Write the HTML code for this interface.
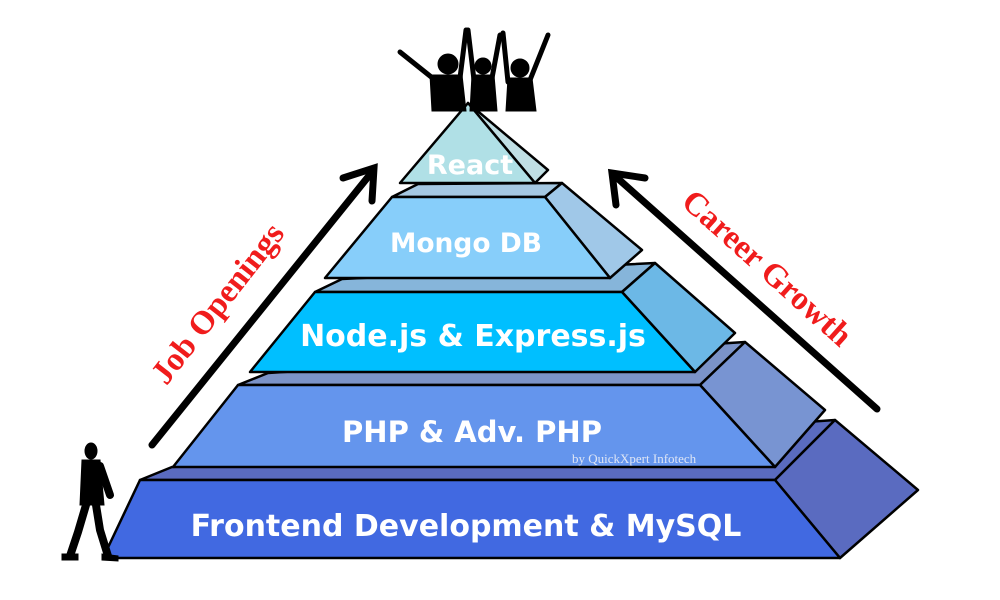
<!DOCTYPE html>
<html><head><meta charset="utf-8"><style>
html,body{margin:0;padding:0;background:#fff;}
svg{display:block;}
</style></head><body>
<svg width="1000" height="600" viewBox="0 0 1000 600" xmlns="http://www.w3.org/2000/svg">
<g stroke="#000" stroke-width="2.5" stroke-linejoin="round">
<polygon points="140,480 172,467 835,420 775,480" fill="#5a6bbf"/>
<polygon points="775,480 835,420 918,490 840,558" fill="#5a6bc0"/>
<polygon points="140,480 775,480 840,558 103,558" fill="#4169e1"/>
<polygon points="238,385 268,373 745,342 700,385" fill="#7b93c8"/>
<polygon points="700,385 745,342 825,410 775,467" fill="#7894d2"/>
<polygon points="238,385 700,385 775,467 173,467" fill="#6495ed"/>
<polygon points="315,292 342,279 655,263 622,292" fill="#86b5da"/>
<polygon points="622,292 655,263 735,333 695,372" fill="#6cb8e6"/>
<polygon points="315,292 622,292 695,372 250,372" fill="#00bfff"/>
<polygon points="392,197 418,184 562,183 545,197" fill="#a5c8e2"/>
<polygon points="545,197 562,183 642,250 610,278" fill="#a0c8e8"/>
<polygon points="392,197 545,197 610,278 325,278" fill="#87cefa"/>
<polygon points="468,103 548,170 535,183" fill="#c0dfe4"/>
<polygon points="468,103 535,183 400,183" fill="#b0e0e6"/>
</g>
<g fill="#fff" font-family="'DejaVu Sans','Liberation Sans',sans-serif" font-weight="bold" text-anchor="middle">
<text x="470" y="174" font-size="27">React</text>
<text x="466" y="252" font-size="26.5">Mongo DB</text>
<text x="473" y="346" font-size="30">Node.js &amp; Express.js</text>
<text x="472" y="442" font-size="29">PHP &amp; Adv. PHP</text>
<text x="466" y="536" font-size="30">Frontend Development &amp; MySQL</text>
</g>
<text x="572" y="463" font-family="'Liberation Serif',serif" font-size="13" fill="#dfe6f5">by QuickXpert Infotech</text>
<g stroke="#000" stroke-width="7" fill="none" stroke-linecap="round">
<line x1="152" y1="445" x2="372" y2="172"/>
<polyline points="343,178 374,168 372,201"/>
<line x1="877" y1="409" x2="615" y2="176"/>
<polyline points="645,178 612,173 616,205"/>
</g>
<g fill="#f01c1c" font-family="'Liberation Serif',serif" font-weight="bold" font-size="33" text-anchor="middle">
<text transform="translate(226,310) rotate(-52)">Job Openings</text>
<text transform="translate(760,276) rotate(42)">Career Growth</text>
</g>
<g fill="#000" stroke="#000" stroke-linecap="round">
<circle cx="448" cy="64" r="10"/>
<circle cx="483" cy="66" r="8"/>
<circle cx="520" cy="68" r="9"/>
<path d="M430,75 L462,75 L466,111 L432,111 Z"/>
<path d="M472,75 L494,75 L497,111 L470,111 Z"/>
<path d="M508,78 L532,78 L536,111 L506,111 Z"/>
<g stroke-width="5" fill="none">
<path d="M435,80 L400,52"/>
<path d="M460,78 L466,30"/>
<path d="M474,80 L468,30"/>
<path d="M492,78 L500,35"/>
<path d="M508,82 L503,33"/>
<path d="M530,80 L548,35"/>
</g>
</g>
<g fill="#000" stroke="#000" stroke-linecap="round">
<ellipse cx="91" cy="451" rx="6" ry="8"/>
<path d="M82,460 L100,460 L104,505 L80,505 Z"/>
<g stroke-width="8" fill="none">
<path d="M86,505 L78,532 L70,556"/>
<path d="M96,505 L100,530 L108,556"/>
<path d="M100,466 L110,495"/>
</g>
<path d="M62,554 L78,554 L78,560 L62,560 Z"/>
<path d="M102,554 L118,556 L118,561 L102,560 Z"/>
</g>
</svg>
</body></html>
